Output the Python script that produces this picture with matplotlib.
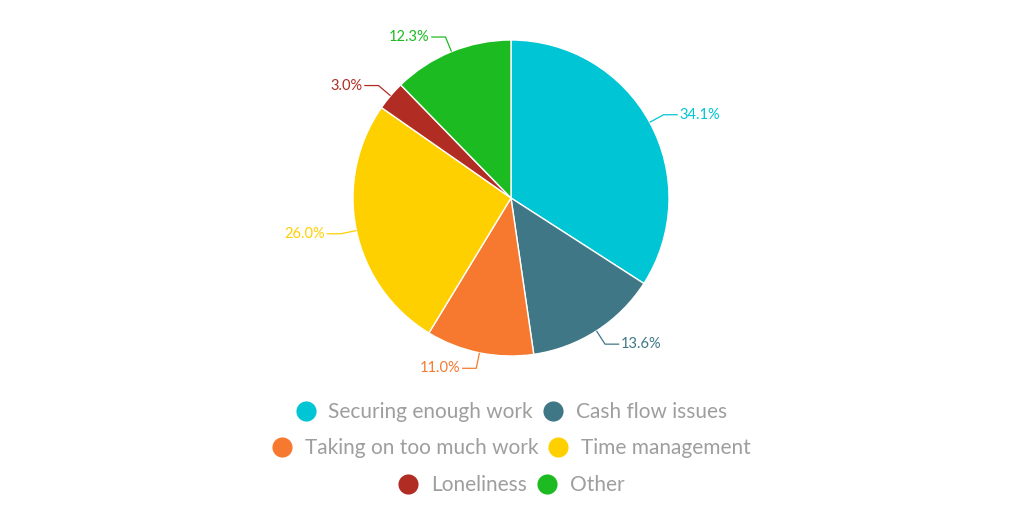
import numpy as np
import matplotlib.pyplot as plt
from matplotlib.lines import Line2D

categories = ['Securing enough work', 'Cash flow issues', 'Taking on too much work',
              'Time management', 'Loneliness', 'Other']
shares = [34.1, 13.6, 11.0, 26.0, 3.0, 12.3]
colors = ['#00C5D4', '#3F7786', '#F7792F', '#FFD000', '#B12C22', '#1DBB22']

plt.rcParams['font.family'] = ['Lato', 'DejaVu Sans']

fig = plt.figure(figsize=(10.24, 5.12), dpi=100)
# pie centre at (511, 198) px, radius 158 px
R = 158
half = 1.6 * R
ax = fig.add_axes([(511 - half) / 1024, (314 - half) / 512, 2 * half / 1024, 2 * half / 512])

wedges, _ = ax.pie(shares, colors=colors, startangle=90, counterclock=False, radius=1,
                   wedgeprops=dict(edgecolor='white', linewidth=1))
ax.set_xlim(-1.6, 1.6)
ax.set_ylim(-1.6, 1.6)
ax.axis('off')

for w, val, c in zip(wedges, shares, colors):
    ang = np.deg2rad((w.theta1 + w.theta2) / 2)
    x0, y0 = np.cos(ang), np.sin(ang)
    x1, y1 = 1.1 * x0, 1.1 * y0
    side = 1 if x0 >= 0 else -1
    x2 = x1 + side * 0.09
    ax.plot([x0, x1, x2], [y0, y1, y1], color=c, lw=0.9, solid_capstyle='butt')
    ax.text(x2 + side * 0.01, y1, f'{val:.1f}%', color=c, fontsize=10.5,
            ha='left' if side > 0 else 'right', va='center')

rows = [(0, 1), (2, 3), (4, 5)]
ys = [412, 448, 485]
for (a, b), yy in zip(rows, ys):
    handles = [Line2D([], [], marker='o', ls='none', markersize=14.5, color=colors[i],
                      markeredgewidth=0) for i in (a, b)]
    fig.legend(handles, [categories[a], categories[b]], ncol=2, loc='center',
               bbox_to_anchor=(511 / 1024, 1 - yy / 512), frameon=False,
               fontsize=15, labelcolor='#9E9E9E', handletextpad=0.6,
               columnspacing=0.45, handlelength=1.0, borderpad=0)

fig.savefig('out.png', dpi=100)
